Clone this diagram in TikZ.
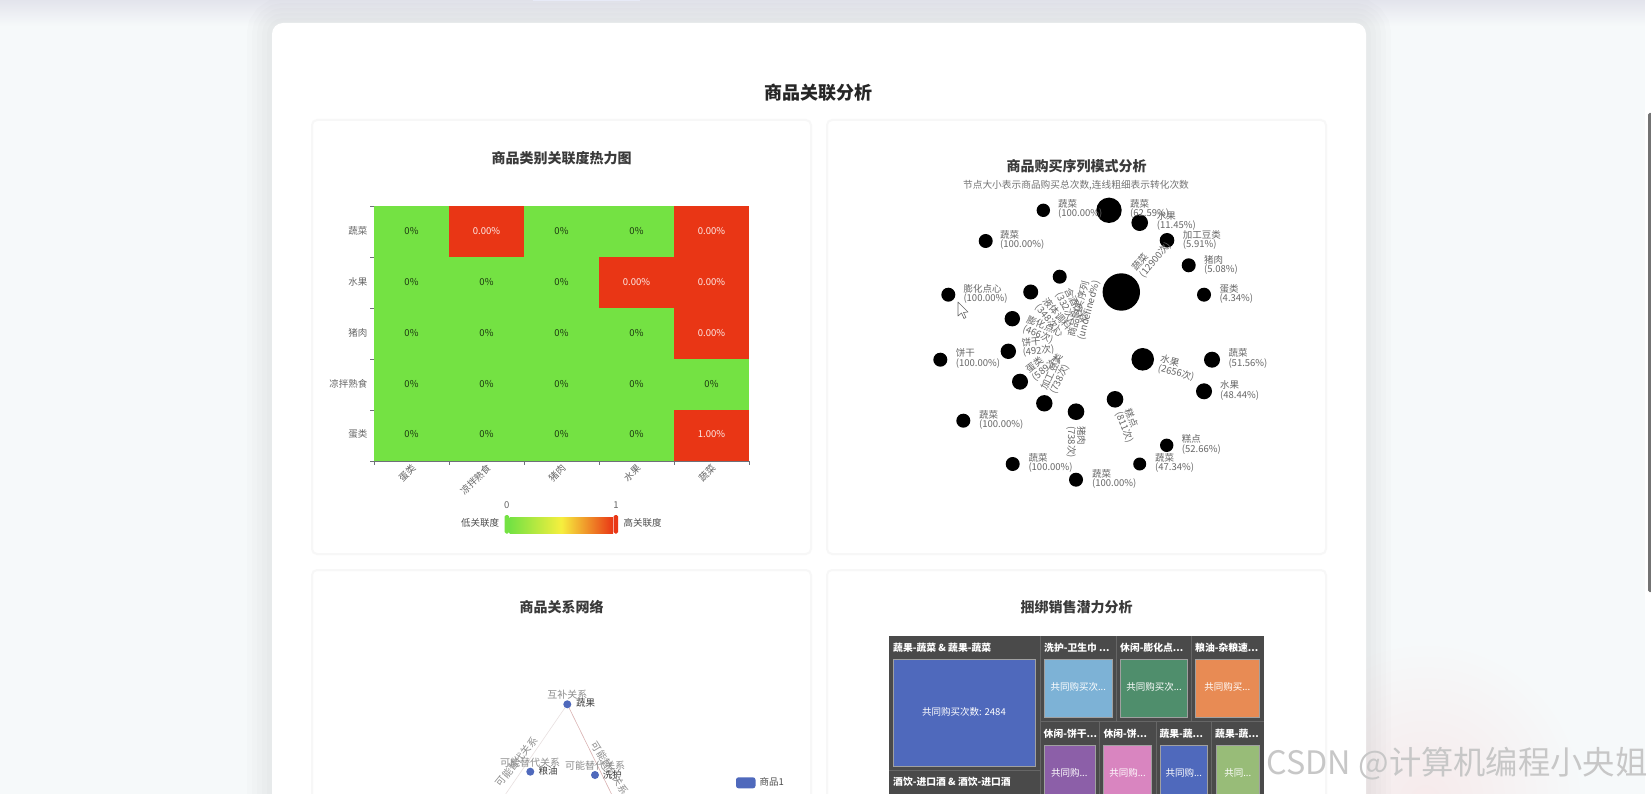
\documentclass[tikz,border=0pt]{standalone}
\usepackage{fontspec}
\setmainfont{Noto Sans CJK SC}
\usetikzlibrary{positioning}
\definecolor{pagebg}{HTML}{F6F9FA}
\definecolor{topbar}{HTML}{E3E4EC}
\definecolor{hgreen}{HTML}{74E243}
\definecolor{hyellow}{HTML}{F6EF3E}
\definecolor{hred}{HTML}{E93615}
\definecolor{axisgray}{HTML}{6E7079}
\definecolor{txtgray}{HTML}{666666}
\definecolor{titlegray}{HTML}{3A3A3A}
\definecolor{nodeblue}{HTML}{4F69BC}
\definecolor{tmbg}{HTML}{4A4A4A}
\definecolor{tmline}{HTML}{666666}
\definecolor{tmedge}{HTML}{A0A0A0}
\definecolor{tmsky}{HTML}{7DB2D6}
\definecolor{tmteal}{HTML}{4F8E6C}
\definecolor{tmorange}{HTML}{E88B54}
\definecolor{tmviolet}{HTML}{8C5FA8}
\definecolor{tmpink}{HTML}{D985C0}
\definecolor{tmlime}{HTML}{98BC78}
\tikzset{
  panel/.style={fill=white,draw=black!3,line width=2pt,rounded corners=5pt},
  halo/.style={draw=black,draw opacity=0.012,rounded corners=11pt},
  maintitle/.style={font=\fontsize{18}{20}\selectfont\bfseries,text=black!85,inner sep=0pt},
  subtitle/.style={font=\fontsize{14}{16}\selectfont\bfseries,text=titlegray,inner sep=0pt},
  hval/.style={font=\fontsize{9.5}{11}\selectfont,text=black!75!hgreen,inner sep=0pt},
  hhot/.style={font=\fontsize{9.5}{11}\selectfont,text=white!90!hred,inner sep=0pt},
  hcat/.style={font=\fontsize{9.5}{11}\selectfont,text=txtgray,inner sep=0pt},
  dot/.style={circle,fill=black,inner sep=0pt},
  seqlab/.style={font=\fontsize{9.5}{9.8}\selectfont,text=txtgray,inner sep=0pt,anchor=west,align=left},
  netlab/.style={font=\fontsize{10}{11}\selectfont,text=black!45,inner sep=0pt},
  netname/.style={font=\fontsize{9.5}{11}\selectfont,text=black!75,inner sep=0pt,anchor=west},
  netdot/.style={circle,fill=nodeblue,inner sep=0pt,minimum size=8pt},
  tmhead/.style={font=\fontsize{9.8}{11}\selectfont\bfseries,text=white,inner sep=0pt,anchor=west},
  tmcell/.style={draw=tmedge,line width=0.8pt},
  tmtext/.style={font=\fontsize{9.5}{11}\selectfont,text=white,inner sep=0pt}
}
\begin{document}
\begin{tikzpicture}[x=1pt,y=-1pt]
  \useasboundingbox (0,0) rectangle (1651,794);
  % page
  \fill[pagebg] (0,0) rectangle (1651,794);
  \begin{scope}
    \clip (0,0) rectangle (1645,794);
    \shade[inner color=red!6!pagebg,outer color=pagebg] (1425,800) circle[radius=160];
  \end{scope}
  \shade[top color=topbar,bottom color=pagebg] (0,0) rectangle (1645,26);
  \fill[blue!5!pagebg] (533,0) rectangle (640,1.5);
  \draw[halo,line width=50pt] (272,23) rectangle (1366,820);
  \draw[halo,line width=40pt] (272,23) rectangle (1366,820);
  \draw[halo,line width=30pt] (272,23) rectangle (1366,820);
  \draw[halo,line width=20pt] (272,23) rectangle (1366,820);
  \draw[halo,line width=10pt] (272,23) rectangle (1366,820);
  \fill[white] (1645,0) rectangle (1651,794);
  \fill[gray!90!black,rounded corners=1.5pt] (1648,113) rectangle (1652,592);

  % cards
  \fill[white,rounded corners=11pt] (272,23) rectangle (1366,820);
  \draw[panel] (312,120) rectangle (811,554);
  \draw[panel] (827,120) rectangle (1326,554);
  \draw[panel] (312,570) rectangle (811,820);
  \draw[panel] (827,570) rectangle (1326,820);
  \node[maintitle] (pagetitle) at (818.5,93) {商品关联分析};

  % heat map
  \node[subtitle] (heattitle) at (561.5,158) {商品类别关联度热力图};
  \fill[hgreen] (374,206) rectangle (749,461);
  \fill[hred] (449,206) rectangle (524,257);
  \fill[hred] (674,206) rectangle (749,359);
  \fill[hred] (599,257) rectangle (674,308);
  \fill[hred] (674,410) rectangle (749,461);
  \draw[axisgray,line width=0.6pt] (370,206) -- (374,206) (370,257) -- (374,257) (370,308) -- (374,308)
    (370,359) -- (374,359) (370,410) -- (374,410) (370,461) -- (749,461)
    (374,461) -- (374,465) (449,461) -- (449,465) (524,461) -- (524,465) (599,461) -- (599,465)
    (674,461) -- (674,465) (749,461) -- (749,465);
  \node[hval] (v11) at (411.5,231) {0\%};
  \node[hhot] (v12) at (486.5,231) {0.00\%};
  \node[hval] (v13) at (561.5,231) {0\%};
  \node[hval] (v14) at (636.5,231) {0\%};
  \node[hhot] (v15) at (711.5,231) {0.00\%};
  \node[hval] (v21) at (411.5,282) {0\%};
  \node[hval] (v22) at (486.5,282) {0\%};
  \node[hval] (v23) at (561.5,282) {0\%};
  \node[hhot] (v24) at (636.5,282) {0.00\%};
  \node[hhot] (v25) at (711.5,282) {0.00\%};
  \node[hval] (v31) at (411.5,333) {0\%};
  \node[hval] (v32) at (486.5,333) {0\%};
  \node[hval] (v33) at (561.5,333) {0\%};
  \node[hval] (v34) at (636.5,333) {0\%};
  \node[hhot] (v35) at (711.5,333) {0.00\%};
  \node[hval] (v41) at (411.5,384) {0\%};
  \node[hval] (v42) at (486.5,384) {0\%};
  \node[hval] (v43) at (561.5,384) {0\%};
  \node[hval] (v44) at (636.5,384) {0\%};
  \node[hval] (v45) at (711.5,384) {0\%};
  \node[hval] (v51) at (411.5,434) {0\%};
  \node[hval] (v52) at (486.5,434) {0\%};
  \node[hval] (v53) at (561.5,434) {0\%};
  \node[hval] (v54) at (636.5,434) {0\%};
  \node[hhot] (v55) at (711.5,434) {1.00\%};
  \node[hcat,anchor=east] (ya) at (367.5,231) {蔬菜};
  \node[hcat,anchor=east] (yb) at (367.5,282) {水果};
  \node[hcat,anchor=east] (yc) at (367.5,333) {猪肉};
  \node[hcat,anchor=east] (yd) at (367.5,384) {凉拌熟食};
  \node[hcat,anchor=east] (ye) at (367.5,434) {蛋类};
  \node[hcat,anchor=east,rotate=45] (xa) at (414,466) {蛋类};
  \node[hcat,anchor=east,rotate=45] (xb) at (489,466) {凉拌熟食};
  \node[hcat,anchor=east,rotate=45] (xc) at (564,466) {猪肉};
  \node[hcat,anchor=east,rotate=45] (xd) at (639,466) {水果};
  \node[hcat,anchor=east,rotate=45] (xe) at (714,466) {蔬菜};
  \shade[left color=hgreen,right color=hred,middle color=hyellow] (509.5,517) rectangle (613,533);
  \fill[hgreen,rounded corners=1.5pt] (504.5,515) rectangle (509,533.5);
  \fill[hred,rounded corners=1.5pt] (613.5,515) rectangle (618,533.5);
  \node[hcat] (lo) at (506.7,505) {0};
  \node[hcat] (hi) at (616,505) {1};
  \node[hcat,text=black!70] (lowlab) at (480,523) {低关联度};
  \node[hcat,text=black!70] (highlab) at (642.5,523) {高关联度};

  % sequence chart
  \node[subtitle] (seqtitle) at (1076.5,166) {商品购买序列模式分析};
  \node[hcat,text=black!55,font=\fontsize{9.7}{11}\selectfont] (seqnote) at (1076,185) {节点大小表示商品购买总次数,连线粗细表示转化次数};
  \node[dot,minimum size=13.4pt] (s1) at (1043.3,210.3) {};
  \node[dot,minimum size=25.4pt] (s2) at (1109,210.3) {};
  \node[dot,minimum size=16.6pt] (s3) at (1139.7,222.7) {};
  \node[dot,minimum size=14.6pt] (s4) at (1167,240.3) {};
  \node[dot,minimum size=14pt] (s5) at (1188.7,265.3) {};
  \node[dot,minimum size=14pt] (s6) at (1204,294.7) {};
  \node[dot,minimum size=37.4pt] (s7) at (1121.3,292) {};
  \node[dot,minimum size=14pt] (s8) at (948.3,294.7) {};
  \node[dot,minimum size=14pt] (s9) at (985.7,241) {};
  \node[dot,minimum size=14pt] (s10) at (1059.7,276.7) {};
  \node[dot,minimum size=15pt] (s11) at (1030.7,292) {};
  \node[dot,minimum size=15.4pt] (s12) at (1012.3,318.7) {};
  \node[dot,minimum size=15.4pt] (s13) at (1008.3,351.3) {};
  \node[dot,minimum size=16pt] (s14) at (1020,381.7) {};
  \node[dot,minimum size=16.4pt] (s15) at (1044.3,403.3) {};
  \node[dot,minimum size=16.6pt] (s16) at (1076,411.7) {};
  \node[dot,minimum size=16.6pt] (s17) at (1115,399.3) {};
  \node[dot,minimum size=22.6pt] (s18) at (1142.7,359.3) {};
  \node[dot,minimum size=16pt] (s19) at (1212,359.7) {};
  \node[dot,minimum size=16pt] (s20) at (1204,391.3) {};
  \node[dot,minimum size=13.4pt] (s21) at (1166.7,445.3) {};
  \node[dot,minimum size=13pt] (s22) at (1139.7,464) {};
  \node[dot,minimum size=14pt] (s23) at (1076,479.7) {};
  \node[dot,minimum size=14pt] (s24) at (1012.7,464) {};
  \node[dot,minimum size=14pt] (s25) at (963.3,420.7) {};
  \node[dot,minimum size=14pt] (s26) at (940.3,359.7) {};
  \node[seqlab] (t1) at (1058,209) {蔬菜\\(100.00\%)};
  \node[seqlab] (t2) at (1130,209) {蔬菜\\(62.59\%)};
  \node[seqlab] (t3) at (1156.7,221) {水果\\(11.45\%)};
  \node[seqlab] (t4) at (1182.7,240) {加工豆类\\(5.91\%)};
  \node[seqlab] (t5) at (1204,265) {猪肉\\(5.08\%)};
  \node[seqlab] (t6) at (1219.3,294) {蛋类\\(4.34\%)};
  \node[seqlab] (t8) at (963.3,294) {膨化点心\\(100.00\%)};
  \node[seqlab] (t9) at (1000,240) {蔬菜\\(100.00\%)};
  \node[seqlab] (t19) at (1228.3,358.7) {蔬菜\\(51.56\%)};
  \node[seqlab] (t20) at (1220,390.5) {水果\\(48.44\%)};
  \node[seqlab] (t21) at (1181.7,444.4) {糕点\\(52.66\%)};
  \node[seqlab] (t22) at (1155,463) {蔬菜\\(47.34\%)};
  \node[seqlab] (t23) at (1092,479) {蔬菜\\(100.00\%)};
  \node[seqlab] (t24) at (1028.3,463) {蔬菜\\(100.00\%)};
  \node[seqlab] (t25) at (979,420) {蔬菜\\(100.00\%)};
  \node[seqlab] (t26) at (955.7,358.3) {饼干\\(100.00\%)};
  \node[seqlab,rotate=50] (r7) at (1137.7,273.3) {蔬菜\\(12900次)};
  \node[seqlab,rotate=-15] (r18) at (1159.3,363.3) {水果\\(2656次)};
  \node[seqlab,rotate=6] (r13) at (1022,348) {饼干\\(492次)};
  \node[seqlab,rotate=38] (r14) at (1030,375) {蛋类\\(589次)};
  \node[seqlab,rotate=65] (r15) at (1048.3,391.7) {加工豆类\\(738次)};
  \node[seqlab,rotate=-90] (r16) at (1076,426) {猪肉\\(738次)};
  \node[seqlab,rotate=-68] (r17) at (1122.7,410.7) {糕点\\(811次)};
  \node[seqlab,rotate=-22] (r12) at (1025,324) {膨化点心\\(466次)};
  \node[seqlab,rotate=-50] (r11) at (1040.7,302.7) {液体调料\\(348次)};
  \node[seqlab,rotate=-63] (r10) at (1062.3,290.7) {含酒饮料\\(332次)};
  \node[seqlab,rotate=75] (r0) at (1076,338.3) {商品购买序列\\(undefined\%)};
  % mouse pointer
  \draw[fill=white,draw=black!60,line width=0.6pt,line join=round] (958,302) -- (958,316) -- (961.5,313) -- (964,318.5)
    -- (966,317.5) -- (963.5,312.5) -- (968,312) -- cycle;

  % relation network
  \node[subtitle] (nettitle) at (561.5,607.5) {商品关系网络};
  \node[netdot] (fruitveg) at (567.3,704.3) {};
  \node[netdot] (grainoil) at (530.3,771.7) {};
  \node[netdot] (washcare) at (595,775) {};
  \coordinate (leftend) at (505,795);
  \coordinate (rightend) at (612,795);
  \draw[red!25!black!12,line width=0.6pt] (fruitveg) -- (leftend);
  \draw[red!50!black!30,line width=0.6pt] (fruitveg) -- (rightend);
  \node[netlab] (lab1) at (567.3,694.3) {互补关系};
  \node[netlab] (lab2) at (530,762.3) {可能替代关系};
  \node[netlab] (lab3) at (595,765.7) {可能替代关系};
  \node[netlab,rotate=51] (lab4) at (516.7,761.7) {可能替代关系};
  \node[netlab,rotate=-58] (lab5) at (610,768.3) {可能替代关系};
  \node[netname] (name1) at (576,703) {蔬果};
  \node[netname] (name2) at (538.3,771) {粮油};
  \node[netname] (name3) at (602.7,775) {洗护};
  \fill[nodeblue,rounded corners=2.5pt] (736,777.3) rectangle (755.5,788.3);
  \node[hcat,anchor=west,text=black!70] (legendlab) at (759.3,782) {商品1};

  % treemap
  \node[subtitle] (maptitle) at (1076.5,607.5) {捆绑销售潜力分析};
  \fill[tmbg] (889,636) rectangle (1263.5,794);
  \draw[tmline,line width=0.8pt] (1040,636) -- (1040,794) (889,770.3) -- (1040,770.3) (1040,721.3) -- (1263.5,721.3)
    (1116.3,636) -- (1116.3,721.3) (1191.3,636) -- (1191.3,721.3)
    (1099,721.3) -- (1099,794) (1156,721.3) -- (1156,794) (1211.3,721.3) -- (1211.3,794);
  \draw[tmcell,fill=nodeblue] (893.3,659.7) rectangle (1035.7,766);
  \draw[tmcell,fill=tmsky] (1044.3,659.7) rectangle (1112,717.3);
  \draw[tmcell,fill=tmteal] (1120.7,659.7) rectangle (1187,717.3);
  \draw[tmcell,fill=tmorange] (1195.7,659.7) rectangle (1259,717.3);
  \draw[tmcell,fill=tmviolet] (1044.3,745.7) rectangle (1095,800);
  \draw[tmcell,fill=tmpink] (1103.7,745.7) rectangle (1151.7,800);
  \draw[tmcell,fill=nodeblue] (1160.3,745.7) rectangle (1207.3,800);
  \draw[tmcell,fill=tmlime] (1216,745.7) rectangle (1259.3,800);
  \node[tmhead] (ha) at (893,647.3) {蔬果-蔬菜 \& 蔬果-蔬菜};
  \node[tmhead] (hb) at (1044,647.3) {洗护-卫生巾 ...};
  \node[tmhead] (hc) at (1120,647.3) {休闲-膨化点...};
  \node[tmhead] (hd) at (1195,647.3) {粮油-杂粮速...};
  \node[tmhead] (he) at (1043.5,733.3) {休闲-饼干...};
  \node[tmhead] (hf) at (1103.3,733.3) {休闲-饼...};
  \node[tmhead] (hg) at (1159.3,733.3) {蔬果-蔬...};
  \node[tmhead] (hh) at (1215,733.3) {蔬果-蔬...};
  \node[tmhead] (hi2) at (893,781.7) {酒饮-进口酒 \& 酒饮-进口酒};
  \node[tmtext] (ca) at (964,711.7) {共同购买次数: 2484};
  \node[tmtext] (cb) at (1078.3,687.3) {共同购买次...};
  \node[tmtext] (cc) at (1154,687.3) {共同购买次...};
  \node[tmtext] (cd) at (1227.3,687.3) {共同购买...};
  \node[tmtext] (ce) at (1069.3,772.7) {共同购...};
  \node[tmtext] (cf) at (1127.5,772.7) {共同购...};
  \node[tmtext] (cg) at (1183.7,772.7) {共同购...};
  \node[tmtext] (ch) at (1237.7,772.7) {共同...};

  % watermark
  \node[font=\fontsize{32.3}{36}\selectfont,text=black!22,inner sep=0pt,anchor=west] (wmark) at (1266.5,763.5) {CSDN @计算机编程小央姐};
\end{tikzpicture}
\end{document}
